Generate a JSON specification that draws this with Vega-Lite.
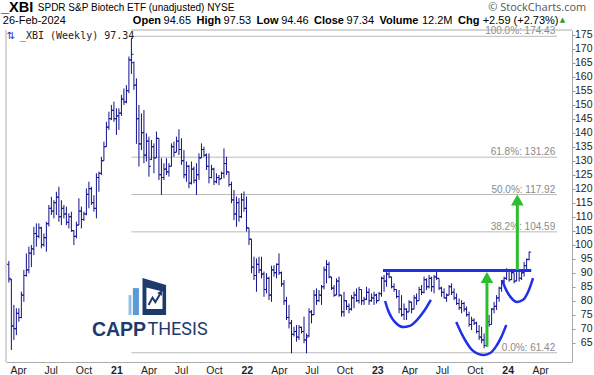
{
"$schema": "https://vega.github.io/schema/vega-lite/v6.json",
"width": 566, "height": 332,
"autosize": {"type": "none"},
"padding": {"left": 6, "top": 30, "right": 22, "bottom": 13},
"background": "#ffffff",
"config": {"view": {"stroke": null}, "font": "Liberation Sans"},
"datasets": {
"ohlc": [
{"d":"2020-03-06","o":93,"h":94.2,"l":86.5,"c":88},
{"d":"2020-03-13","o":87.5,"h":87.8,"l":62.4,"c":71},
{"d":"2020-03-20","o":71,"h":78.5,"l":66,"c":70},
{"d":"2020-03-27","o":70,"h":77.3,"l":67.7,"c":75.5},
{"d":"2020-04-03","o":75.5,"h":77.3,"l":72.5,"c":74},
{"d":"2020-04-10","o":74,"h":83.2,"l":73.7,"c":82},
{"d":"2020-04-17","o":82,"h":91,"l":79.6,"c":89},
{"d":"2020-04-24","o":89,"h":96.9,"l":88.6,"c":91},
{"d":"2020-05-01","o":91,"h":99.3,"l":89.8,"c":97},
{"d":"2020-05-08","o":97,"h":99.9,"l":92,"c":98.5},
{"d":"2020-05-15","o":98.5,"h":106.4,"l":96.3,"c":104},
{"d":"2020-05-22","o":104,"h":107.6,"l":99.3,"c":103},
{"d":"2020-05-29","o":103,"h":107.6,"l":102.3,"c":106},
{"d":"2020-06-05","o":106,"h":106.4,"l":98.7,"c":100},
{"d":"2020-06-12","o":100,"h":104,"l":99.3,"c":102.5},
{"d":"2020-06-19","o":102.5,"h":108.2,"l":97.5,"c":107.5},
{"d":"2020-06-26","o":107.5,"h":114.2,"l":106.5,"c":113},
{"d":"2020-07-03","o":113,"h":117.1,"l":110.6,"c":112},
{"d":"2020-07-10","o":112,"h":115.9,"l":109.4,"c":115},
{"d":"2020-07-17","o":115,"h":118.9,"l":110.6,"c":117},
{"d":"2020-07-24","o":117,"h":120.7,"l":108.2,"c":110},
{"d":"2020-07-31","o":110,"h":115.9,"l":107,"c":113},
{"d":"2020-08-07","o":113,"h":114.2,"l":109.4,"c":111},
{"d":"2020-08-14","o":111,"h":113.6,"l":107,"c":108},
{"d":"2020-08-21","o":108,"h":111.2,"l":105.8,"c":110},
{"d":"2020-08-28","o":110,"h":111.8,"l":104.6,"c":105},
{"d":"2020-09-04","o":105,"h":105.2,"l":99.9,"c":103},
{"d":"2020-09-11","o":103,"h":108.2,"l":102.3,"c":107},
{"d":"2020-09-18","o":107,"h":116.6,"l":107,"c":112},
{"d":"2020-09-25","o":112,"h":113.6,"l":105.8,"c":109},
{"d":"2020-10-02","o":109,"h":111.8,"l":108.5,"c":111},
{"d":"2020-10-09","o":111,"h":120.1,"l":110.5,"c":118},
{"d":"2020-10-16","o":118,"h":122.5,"l":113,"c":120},
{"d":"2020-10-23","o":120,"h":120.7,"l":114.2,"c":115},
{"d":"2020-10-30","o":115,"h":117.7,"l":111.8,"c":113},
{"d":"2020-11-06","o":113,"h":125.5,"l":109.4,"c":124},
{"d":"2020-11-13","o":124,"h":126.1,"l":118.9,"c":125.5},
{"d":"2020-11-20","o":125.5,"h":131.4,"l":124.9,"c":130},
{"d":"2020-11-27","o":130,"h":136.8,"l":130,"c":135},
{"d":"2020-12-04","o":135,"h":143.9,"l":135,"c":142},
{"d":"2020-12-11","o":142,"h":147.5,"l":141,"c":145},
{"d":"2020-12-18","o":145,"h":149.9,"l":144.5,"c":148},
{"d":"2020-12-25","o":148,"h":151.1,"l":143.9,"c":145},
{"d":"2021-01-01","o":145,"h":148.7,"l":139.2,"c":146},
{"d":"2021-01-08","o":146,"h":148.7,"l":141,"c":147},
{"d":"2021-01-15","o":147,"h":153.5,"l":146,"c":152},
{"d":"2021-01-22","o":152,"h":155.8,"l":149.9,"c":151},
{"d":"2021-01-29","o":151,"h":157,"l":150.5,"c":155},
{"d":"2021-02-05","o":155,"h":167.2,"l":154.1,"c":166},
{"d":"2021-02-12","o":166,"h":173.8,"l":161,"c":168},
{"d":"2021-02-19","o":165,"h":165.4,"l":155.3,"c":157},
{"d":"2021-02-26","o":157,"h":159.4,"l":136,"c":145},
{"d":"2021-03-05","o":145,"h":149.9,"l":127.9,"c":136},
{"d":"2021-03-12","o":136,"h":146.9,"l":133.8,"c":140},
{"d":"2021-03-19","o":140,"h":148.1,"l":129.1,"c":132},
{"d":"2021-03-26","o":132,"h":139.8,"l":129.7,"c":137},
{"d":"2021-04-02","o":137,"h":138.6,"l":124.3,"c":128},
{"d":"2021-04-09","o":130.5,"h":137.4,"l":130.2,"c":135},
{"d":"2021-04-16","o":135,"h":136.2,"l":125.5,"c":131},
{"d":"2021-04-23","o":131,"h":140.4,"l":131,"c":138},
{"d":"2021-04-30","o":138,"h":138,"l":123.1,"c":125},
{"d":"2021-05-07","o":125,"h":130.9,"l":117.8,"c":124},
{"d":"2021-05-14","o":124,"h":129.1,"l":123.1,"c":127},
{"d":"2021-05-21","o":127,"h":130.9,"l":124.9,"c":126},
{"d":"2021-05-28","o":126,"h":129.1,"l":124.3,"c":128},
{"d":"2021-06-04","o":128,"h":136.2,"l":128,"c":135},
{"d":"2021-06-11","o":135,"h":136.8,"l":131.4,"c":133},
{"d":"2021-06-18","o":133,"h":138.6,"l":133,"c":137},
{"d":"2021-06-25","o":137,"h":141.2,"l":132,"c":134},
{"d":"2021-07-02","o":134,"h":138,"l":128.5,"c":130},
{"d":"2021-07-09","o":130,"h":133.8,"l":123.7,"c":125},
{"d":"2021-07-16","o":125,"h":129.7,"l":122.5,"c":128},
{"d":"2021-07-23","o":128,"h":128.5,"l":120.2,"c":122},
{"d":"2021-07-30","o":122,"h":129.7,"l":121.5,"c":127},
{"d":"2021-08-06","o":127,"h":127.9,"l":121.9,"c":123},
{"d":"2021-08-13","o":123,"h":129.1,"l":117.8,"c":125},
{"d":"2021-08-20","o":125,"h":132.6,"l":123.1,"c":131},
{"d":"2021-08-27","o":131,"h":136.2,"l":130.9,"c":134},
{"d":"2021-09-03","o":134,"h":135,"l":131.4,"c":132},
{"d":"2021-09-10","o":132,"h":132.6,"l":126.7,"c":128},
{"d":"2021-09-17","o":128,"h":132.6,"l":121.9,"c":124},
{"d":"2021-09-24","o":124,"h":128.5,"l":123.7,"c":127},
{"d":"2021-10-01","o":127,"h":127.5,"l":121.3,"c":122.5},
{"d":"2021-10-08","o":122.5,"h":125.5,"l":121.9,"c":124},
{"d":"2021-10-15","o":124,"h":124.9,"l":121.3,"c":123.5},
{"d":"2021-10-22","o":123.5,"h":126.1,"l":123.5,"c":125.5},
{"d":"2021-10-29","o":125.5,"h":134.4,"l":123.7,"c":129},
{"d":"2021-11-05","o":129,"h":131.4,"l":124.9,"c":126},
{"d":"2021-11-12","o":126,"h":126.1,"l":120.7,"c":121.5},
{"d":"2021-11-19","o":121.5,"h":122.5,"l":114.8,"c":116},
{"d":"2021-11-26","o":116,"h":119.5,"l":108.8,"c":111},
{"d":"2021-12-03","o":111,"h":117.2,"l":106.4,"c":115},
{"d":"2021-12-10","o":115,"h":116.6,"l":108.2,"c":110},
{"d":"2021-12-17","o":110,"h":118.4,"l":109.5,"c":116},
{"d":"2021-12-24","o":116,"h":119,"l":111.8,"c":113},
{"d":"2021-12-31","o":113,"h":117.2,"l":104.7,"c":106},
{"d":"2022-01-07","o":106,"h":106,"l":99.9,"c":102},
{"d":"2022-01-14","o":102,"h":102,"l":89.8,"c":92},
{"d":"2022-01-21","o":92,"h":95.7,"l":87.4,"c":89},
{"d":"2022-01-28","o":89,"h":95.1,"l":83.2,"c":93},
{"d":"2022-02-04","o":93,"h":95.7,"l":89.8,"c":91},
{"d":"2022-02-11","o":91,"h":95.7,"l":88,"c":89.5},
{"d":"2022-02-18","o":89.5,"h":90.4,"l":81.4,"c":84},
{"d":"2022-02-25","o":84,"h":89.8,"l":82.6,"c":88},
{"d":"2022-03-04","o":88,"h":88.6,"l":80.2,"c":82},
{"d":"2022-03-11","o":82,"h":92.5,"l":79.6,"c":91},
{"d":"2022-03-18","o":91,"h":92.7,"l":88.6,"c":90},
{"d":"2022-03-25","o":90,"h":93.3,"l":88,"c":93},
{"d":"2022-04-01","o":93,"h":96.9,"l":89.2,"c":90},
{"d":"2022-04-08","o":90,"h":90.4,"l":85,"c":86},
{"d":"2022-04-15","o":86,"h":87.4,"l":78.5,"c":80},
{"d":"2022-04-22","o":80,"h":81.4,"l":73.1,"c":74},
{"d":"2022-04-29","o":74,"h":78.5,"l":70.1,"c":72},
{"d":"2022-05-06","o":72,"h":73.1,"l":61.2,"c":68},
{"d":"2022-05-13","o":68,"h":70.7,"l":67.2,"c":69},
{"d":"2022-05-20","o":69,"h":71.3,"l":65.4,"c":67},
{"d":"2022-05-27","o":67,"h":71.3,"l":66,"c":70.5},
{"d":"2022-06-03","o":70.5,"h":70.7,"l":68.3,"c":69},
{"d":"2022-06-10","o":69,"h":74.3,"l":64.8,"c":66},
{"d":"2022-06-17","o":66,"h":68.3,"l":61.2,"c":67},
{"d":"2022-06-24","o":67.5,"h":77.3,"l":67,"c":76},
{"d":"2022-07-01","o":76,"h":76.7,"l":71.9,"c":75},
{"d":"2022-07-08","o":75,"h":83.8,"l":74.9,"c":82},
{"d":"2022-07-15","o":82,"h":84.4,"l":78.5,"c":80},
{"d":"2022-07-22","o":80,"h":83.8,"l":79.6,"c":82},
{"d":"2022-07-29","o":82,"h":85.6,"l":78.5,"c":85},
{"d":"2022-08-05","o":85,"h":92.2,"l":84,"c":91},
{"d":"2022-08-12","o":91,"h":94.5,"l":86.2,"c":93},
{"d":"2022-08-19","o":93,"h":93.9,"l":88,"c":88.5},
{"d":"2022-08-26","o":88.5,"h":88.5,"l":83.8,"c":84.5},
{"d":"2022-09-02","o":84.5,"h":85.6,"l":81.4,"c":82},
{"d":"2022-09-09","o":82,"h":88,"l":82,"c":87},
{"d":"2022-09-16","o":87,"h":88.6,"l":81.4,"c":82},
{"d":"2022-09-23","o":82,"h":82,"l":74.3,"c":76},
{"d":"2022-09-30","o":76,"h":83.2,"l":74.3,"c":80},
{"d":"2022-10-07","o":80,"h":80.2,"l":76.7,"c":78},
{"d":"2022-10-14","o":78,"h":79,"l":75.5,"c":77},
{"d":"2022-10-21","o":77,"h":82,"l":76.5,"c":81},
{"d":"2022-10-28","o":81,"h":83.2,"l":77.3,"c":82},
{"d":"2022-11-04","o":82,"h":84.4,"l":79.6,"c":80},
{"d":"2022-11-11","o":80,"h":85,"l":79,"c":84},
{"d":"2022-11-18","o":84,"h":84,"l":78.5,"c":80},
{"d":"2022-11-25","o":80,"h":81.4,"l":78.5,"c":80.5},
{"d":"2022-12-02","o":80.5,"h":85,"l":80.2,"c":83},
{"d":"2022-12-09","o":83,"h":84.4,"l":78.5,"c":80},
{"d":"2022-12-16","o":80,"h":82.6,"l":79.6,"c":81},
{"d":"2022-12-23","o":81,"h":83.2,"l":78.5,"c":82},
{"d":"2022-12-30","o":82,"h":82.5,"l":79,"c":80},
{"d":"2023-01-06","o":80,"h":83.2,"l":80,"c":82.5},
{"d":"2023-01-13","o":82.5,"h":88.6,"l":81.4,"c":88},
{"d":"2023-01-20","o":88,"h":89.2,"l":83.2,"c":87},
{"d":"2023-01-27","o":87,"h":90.9,"l":85,"c":89.5},
{"d":"2023-02-03","o":89.5,"h":90.4,"l":88,"c":88.5},
{"d":"2023-02-10","o":88.5,"h":88.5,"l":84.4,"c":85},
{"d":"2023-02-17","o":85,"h":86.2,"l":83.2,"c":84},
{"d":"2023-02-24","o":84,"h":84,"l":80.8,"c":81.5},
{"d":"2023-03-03","o":81.5,"h":83.8,"l":75.5,"c":77},
{"d":"2023-03-10","o":77,"h":82,"l":74.3,"c":75},
{"d":"2023-03-17","o":75,"h":79,"l":73.1,"c":77},
{"d":"2023-03-24","o":77,"h":77.3,"l":73.1,"c":76},
{"d":"2023-03-31","o":76,"h":80.2,"l":76,"c":79.5},
{"d":"2023-04-07","o":79.5,"h":79.6,"l":75.5,"c":77},
{"d":"2023-04-14","o":77,"h":82,"l":77,"c":81},
{"d":"2023-04-21","o":81,"h":82.6,"l":78.5,"c":80},
{"d":"2023-04-28","o":80,"h":85,"l":80,"c":84},
{"d":"2023-05-05","o":84,"h":85.6,"l":82,"c":83},
{"d":"2023-05-12","o":83,"h":88.6,"l":82.6,"c":87.5},
{"d":"2023-05-19","o":87.5,"h":88,"l":83.8,"c":85},
{"d":"2023-05-26","o":85,"h":89.2,"l":84.4,"c":88},
{"d":"2023-06-02","o":88,"h":88.6,"l":83.2,"c":85},
{"d":"2023-06-09","o":85,"h":89.2,"l":82.6,"c":88.5},
{"d":"2023-06-16","o":88.5,"h":91,"l":87.4,"c":88},
{"d":"2023-06-23","o":88,"h":88,"l":83.8,"c":84.5},
{"d":"2023-06-30","o":84.5,"h":85,"l":81.4,"c":83},
{"d":"2023-07-07","o":83,"h":84.4,"l":80.8,"c":81},
{"d":"2023-07-14","o":81,"h":82.6,"l":79.6,"c":82},
{"d":"2023-07-21","o":82,"h":85.6,"l":82,"c":85},
{"d":"2023-07-28","o":85,"h":86.2,"l":82,"c":83},
{"d":"2023-08-04","o":83,"h":84.4,"l":80.2,"c":81},
{"d":"2023-08-11","o":81,"h":82.6,"l":78.5,"c":79},
{"d":"2023-08-18","o":79,"h":80.8,"l":76.7,"c":77.5},
{"d":"2023-08-25","o":77.5,"h":80.2,"l":75.5,"c":79},
{"d":"2023-09-01","o":79,"h":79.6,"l":76.1,"c":77},
{"d":"2023-09-08","o":77,"h":77.9,"l":74.3,"c":75},
{"d":"2023-09-15","o":75,"h":76.1,"l":70.7,"c":71.5},
{"d":"2023-09-22","o":71.5,"h":74.3,"l":69.5,"c":73},
{"d":"2023-09-29","o":73,"h":73.7,"l":71.3,"c":72},
{"d":"2023-10-06","o":72,"h":72.5,"l":68.3,"c":69},
{"d":"2023-10-13","o":69,"h":71.3,"l":66,"c":67},
{"d":"2023-10-20","o":67,"h":70.7,"l":64.8,"c":66},
{"d":"2023-10-27","o":66,"h":68.3,"l":63,"c":64},
{"d":"2023-11-03","o":64,"h":73.1,"l":63.5,"c":72.5},
{"d":"2023-11-10","o":72.5,"h":74.9,"l":70.7,"c":71.5},
{"d":"2023-11-17","o":71.5,"h":77.3,"l":71.5,"c":77},
{"d":"2023-11-24","o":77,"h":79.6,"l":75.5,"c":78},
{"d":"2023-12-01","o":78,"h":82,"l":76.7,"c":81},
{"d":"2023-12-08","o":81,"h":85,"l":79.6,"c":84.5},
{"d":"2023-12-15","o":84.5,"h":87.4,"l":83.2,"c":87},
{"d":"2023-12-22","o":87,"h":88.6,"l":86.2,"c":88},
{"d":"2023-12-29","o":88,"h":91.6,"l":87.4,"c":90.5},
{"d":"2024-01-05","o":90.5,"h":91,"l":86.8,"c":87.5},
{"d":"2024-01-12","o":87.5,"h":91,"l":87.4,"c":90},
{"d":"2024-01-19","o":90,"h":90,"l":86.2,"c":87},
{"d":"2024-01-26","o":87,"h":91.6,"l":87,"c":90.5},
{"d":"2024-02-02","o":90.5,"h":91,"l":86.8,"c":88},
{"d":"2024-02-09","o":88,"h":90.4,"l":87.4,"c":90},
{"d":"2024-02-16","o":90,"h":93.9,"l":88.6,"c":92.5},
{"d":"2024-02-23","o":92.5,"h":95.1,"l":91,"c":94.75},
{"d":"2024-03-01","o":94.65,"h":97.53,"l":94.46,"c":97.34}
],
"fib": [
{"d":"2021-02-12","d2":"2024-05-18","v":174.43},
{"d":"2021-02-12","d2":"2024-05-18","v":131.26},
{"d":"2021-02-12","d2":"2024-05-18","v":117.92},
{"d":"2021-02-12","d2":"2024-05-18","v":104.59},
{"d":"2021-02-12","d2":"2024-05-18","v":61.42}
],
"fiblab": [
{"d":"2024-05-13","v":174.43,"t":"100.0%: 174.43"},
{"d":"2024-05-13","v":131.26,"t":"61.8%: 131.26"},
{"d":"2024-05-13","v":117.92,"t":"50.0%: 117.92"},
{"d":"2024-05-13","v":104.59,"t":"38.2%: 104.59"},
{"d":"2024-05-13","v":61.42,"t":"0.0%: 61.42"}
],
"frame_left": [{"d":"2020-02-27","v":58.11,"v2":176.68}],
"frame_top": [{"d":"2021-02-12","d2":"2024-06-29","v":176.68}],
"neck": [{"d":"2023-01-17","d2":"2024-03-07","v":90.8}],
"cups": [
{"g":1,"d":"2023-01-23","v":79.9},
{"g":1,"d":"2023-01-31","v":76.7},
{"g":1,"d":"2023-02-11","v":73.8},
{"g":1,"d":"2023-02-25","v":71.7},
{"g":1,"d":"2023-03-14","v":70.6},
{"g":1,"d":"2023-04-02","v":71.0},
{"g":1,"d":"2023-04-22","v":73.1},
{"g":1,"d":"2023-05-12","v":76.3},
{"g":1,"d":"2023-05-31","v":80.3},
{"g":2,"d":"2023-08-10","v":72.4},
{"g":2,"d":"2023-08-24","v":68.5},
{"g":2,"d":"2023-09-07","v":65.25},
{"g":2,"d":"2023-09-23","v":62.4},
{"g":2,"d":"2023-10-10","v":61.0},
{"g":2,"d":"2023-10-27","v":60.6},
{"g":2,"d":"2023-11-13","v":61.3},
{"g":2,"d":"2023-11-30","v":63.8},
{"g":2,"d":"2023-12-14","v":67.0},
{"g":2,"d":"2023-12-28","v":71.3},
{"g":3,"d":"2023-12-16","v":87.4},
{"g":3,"d":"2023-12-28","v":83.8},
{"g":3,"d":"2024-01-11","v":81.0},
{"g":3,"d":"2024-01-27","v":79.5},
{"g":3,"d":"2024-02-13","v":80.3},
{"g":3,"d":"2024-02-27","v":83.1},
{"g":3,"d":"2024-03-12","v":88.1}
],
"shafts": [
{"d":"2023-11-04","v":63.6,"v2":86.5},
{"d":"2024-01-28","v":91.0,"v2":114.5}
],
"heads": [
{"d":"2023-11-04","v":88.3},
{"d":"2024-01-28","v":116.0}
],
"logobox": [
{"d":"2021-03-15","v":88.1,"v2":74.9},
{"d":"2021-05-20","v":85.6,"v2":74.9}
],
"logoinner": [
{"d":"2021-03-26","v":84.7,"v2":77.0},
{"d":"2021-05-10","v":83.3,"v2":77.0}
],
"logobars": [
{"d":"2021-02-04","d2":"2021-02-12","v":82.0,"v2":74.9,"k":"a"},
{"d":"2021-02-16","d2":"2021-03-05","v":84.5,"v2":74.9,"k":"b"}
],
"logozig": [
{"d":"2021-04-01","v":78.5},
{"d":"2021-04-12","v":81.1},
{"d":"2021-04-20","v":79.5},
{"d":"2021-05-04","v":82.6}
],
"logohead": [{"d":"2021-05-05","v":83.0}],
"logotxt": [
{"d":"2021-03-25","v":69.5,"t":"CAPP","s":"b"},
{"d":"2021-03-29","v":69.5,"t":"THESIS","s":"n"}
],
"hdr": [
{"s":"big","d":"2020-02-13","v":184.5,"t":"_XBI"},
{"s":"t","d":"2020-05-26","v":184.5,"t":"SPDR S&P Biotech ETF (unadjusted) NYSE"},
{"s":"n","d":"2020-02-18","v":180.0,"t":"26-Feb-2024"},
{"s":"b","d":"2021-02-16","v":180.0,"t":"Open"},
{"s":"n","d":"2021-05-13","v":180.0,"t":"94.65"},
{"s":"b","d":"2021-08-13","v":180.0,"t":"High"},
{"s":"n","d":"2021-10-28","v":180.0,"t":"97.53"},
{"s":"b","d":"2022-01-28","v":180.0,"t":"Low"},
{"s":"n","d":"2022-04-07","v":180.0,"t":"94.46"},
{"s":"b","d":"2022-07-08","v":180.0,"t":"Close"},
{"s":"n","d":"2022-10-07","v":180.0,"t":"97.34"},
{"s":"b","d":"2023-01-07","v":180.0,"t":"Volume"},
{"s":"n","d":"2023-05-06","v":180.0,"t":"12.2M"},
{"s":"b","d":"2023-08-15","v":180.0,"t":"Chg"},
{"s":"n","d":"2023-10-23","v":180.0,"t":"+2.59 (+2.73%)"},
{"s":"g","d":"2024-06-02","v":180.3,"t":"▲"},
{"s":"c","d":"2024-08-08","v":184.4,"t":"© StockCharts.com"},
{"s":"m","d":"2020-04-06","v":174.5,"t":"_XBI (Weekly) 97.34"},
{"s":"i","d":"2020-03-12","v":174.5,"t":"⇅"}
]
},
"encoding": {
"x": {"field": "d", "type": "temporal", "title": null,
 "scale": {"type": "utc", "domain": [{"year":2020,"month":2,"date":27,"utc":true},{"year":2024,"month":6,"date":29,"utc":true}], "nice": false},
 "axis": {"values": [{"year":2020,"month":4,"date":1,"utc":true},{"year":2020,"month":7,"date":1,"utc":true},{"year":2020,"month":10,"date":1,"utc":true},{"year":2021,"month":1,"date":1,"utc":true},{"year":2021,"month":4,"date":1,"utc":true},{"year":2021,"month":7,"date":1,"utc":true},{"year":2021,"month":10,"date":1,"utc":true},{"year":2022,"month":1,"date":1,"utc":true},{"year":2022,"month":4,"date":1,"utc":true},{"year":2022,"month":7,"date":1,"utc":true},{"year":2022,"month":10,"date":1,"utc":true},{"year":2023,"month":1,"date":1,"utc":true},{"year":2023,"month":4,"date":1,"utc":true},{"year":2023,"month":7,"date":1,"utc":true},{"year":2023,"month":10,"date":1,"utc":true},{"year":2024,"month":1,"date":1,"utc":true},{"year":2024,"month":4,"date":1,"utc":true}],
  "labelExpr": "utcmonth(datum.value) == 0 ? utcFormat(datum.value, '%y') : utcFormat(datum.value, '%b')",
  "labelFontWeight": {"condition": {"test": "utcmonth(datum.value) == 0", "value": "bold"}, "value": "normal"},
  "grid": false, "ticks": false, "domainColor": "#aaaaaa", "labelFont": "Liberation Sans", "labelFontSize": 10.5, "labelColor": "#222222", "labelPadding": 3, "labelOverlap": false, "labelFlush": false, "title": null}},
"y": {"field": "v", "type": "quantitative", "title": null,
 "scale": {"domain": [58.11, 176.68], "nice": false, "zero": false},
 "axis": {"orient": "right", "values": [65,70,75,80,85,90,95,100,105,110,115,120,125,130,135,140,145,150,155,160,165,170,175], "grid": false, "domainColor": "#aaaaaa", "tickColor": "#999999", "tickSize": 3, "labelAlign": "right", "labelPadding": 17, "labelFont": "Liberation Sans", "labelFontSize": 10.5, "labelColor": "#222222", "labelOverlap": false, "labelFlush": false, "title": null}}
},
"layer": [
{"data": {"name": "fib"}, "mark": {"type": "rule", "color": "#bbbbbb", "strokeWidth": 1}, "encoding": {"x2": {"field": "d2"}}},
{"data": {"name": "fiblab"}, "mark": {"type": "text", "align": "right", "baseline": "bottom", "fontSize": 10, "color": "#8a8a8a", "font": "Liberation Sans"}, "encoding": {"text": {"field": "t"}}},
{"data": {"name": "frame_left"}, "mark": {"type": "rule", "color": "#aaaaaa", "strokeWidth": 1}, "encoding": {"y2": {"field": "v2"}}},
{"data": {"name": "frame_top"}, "mark": {"type": "rule", "color": "#aaaaaa", "strokeWidth": 1}, "encoding": {"x2": {"field": "d2"}}},
{"data": {"name": "ohlc"}, "mark": {"type": "rule", "color": "#12128c", "strokeWidth": 1},
 "encoding": {"y": {"field": "l", "type": "quantitative", "title": null, "scale": {"domain": [58.11, 176.68], "nice": false, "zero": false}, "axis": {"orient": "right", "values": [65,70,75,80,85,90,95,100,105,110,115,120,125,130,135,140,145,150,155,160,165,170,175], "grid": false, "domainColor": "#aaaaaa", "tickColor": "#999999", "tickSize": 3, "labelAlign": "right", "labelPadding": 17, "labelFont": "Liberation Sans", "labelFontSize": 10.5, "labelColor": "#222222", "labelOverlap": false, "labelFlush": false, "title": null}}, "y2": {"field": "h"}}},
{"data": {"name": "ohlc"}, "mark": {"type": "tick", "orient": "horizontal", "size": 2, "thickness": 1, "xOffset": -1, "color": "#12128c", "opacity": 1},
 "encoding": {"y": {"field": "o", "type": "quantitative", "title": null, "scale": {"domain": [58.11, 176.68], "nice": false, "zero": false}, "axis": {"orient": "right", "values": [65,70,75,80,85,90,95,100,105,110,115,120,125,130,135,140,145,150,155,160,165,170,175], "grid": false, "domainColor": "#aaaaaa", "tickColor": "#999999", "tickSize": 3, "labelAlign": "right", "labelPadding": 17, "labelFont": "Liberation Sans", "labelFontSize": 10.5, "labelColor": "#222222", "labelOverlap": false, "labelFlush": false, "title": null}}}},
{"data": {"name": "ohlc"}, "mark": {"type": "tick", "orient": "horizontal", "size": 2, "thickness": 1, "xOffset": 1, "color": "#12128c", "opacity": 1},
 "encoding": {"y": {"field": "c", "type": "quantitative", "title": null, "scale": {"domain": [58.11, 176.68], "nice": false, "zero": false}, "axis": {"orient": "right", "values": [65,70,75,80,85,90,95,100,105,110,115,120,125,130,135,140,145,150,155,160,165,170,175], "grid": false, "domainColor": "#aaaaaa", "tickColor": "#999999", "tickSize": 3, "labelAlign": "right", "labelPadding": 17, "labelFont": "Liberation Sans", "labelFontSize": 10.5, "labelColor": "#222222", "labelOverlap": false, "labelFlush": false, "title": null}}}},
{"data": {"name": "neck"}, "mark": {"type": "rule", "color": "#1f30e8", "strokeWidth": 3}, "encoding": {"x2": {"field": "d2"}}},
{"data": {"name": "cups"}, "mark": {"type": "line", "interpolate": "monotone", "color": "#1f30e8", "strokeWidth": 2.5}, "encoding": {"detail": {"field": "g", "type": "nominal"}}},
{"data": {"name": "shafts"}, "mark": {"type": "rule", "color": "#2ebd2e", "strokeWidth": 3}, "encoding": {"y2": {"field": "v2"}}},
{"data": {"name": "heads"}, "mark": {"type": "point", "shape": "triangle-up", "filled": true, "size": 160, "color": "#2ebd2e", "opacity": 1, "strokeWidth": 0}, "encoding": {}},
{"data": {"name": "logobox"}, "mark": {"type": "area", "color": "#1d3a6d", "opacity": 1}, "encoding": {"y2": {"field": "v2"}}},
{"data": {"name": "logoinner"}, "mark": {"type": "area", "color": "#ffffff", "opacity": 1}, "encoding": {"y2": {"field": "v2"}}},
{"data": {"name": "logobars"}, "mark": {"type": "rect", "opacity": 1}, "encoding": {"x2": {"field": "d2"}, "y2": {"field": "v2"}, "color": {"field": "k", "type": "nominal", "scale": {"domain": ["a","b"], "range": ["#8fbfe6","#5a9bd6"]}, "legend": null}}},
{"data": {"name": "logozig"}, "mark": {"type": "line", "color": "#1d3a6d", "strokeWidth": 2}, "encoding": {}},
{"data": {"name": "logohead"}, "mark": {"type": "point", "shape": "triangle-up", "filled": true, "size": 30, "angle": 30, "color": "#1d3a6d", "opacity": 1, "strokeWidth": 0}, "encoding": {}},
{"data": {"name": "logotxt"}, "transform": [{"filter": "datum.s == 'b'"}], "mark": {"type": "text", "align": "right", "baseline": "middle", "font": "Liberation Sans", "fontWeight": "bold", "fontSize": 19.5, "color": "#1d3a6d"}, "encoding": {"text": {"field": "t"}}},
{"data": {"name": "logotxt"}, "transform": [{"filter": "datum.s == 'n'"}], "mark": {"type": "text", "align": "left", "baseline": "middle", "font": "Roboto", "fontSize": 18, "color": "#1d3a6d"}, "encoding": {"text": {"field": "t"}}},
{"data": {"name": "hdr"}, "transform": [{"filter": "datum.s == 'big'"}], "mark": {"type": "text", "align": "left", "baseline": "middle", "font": "Liberation Sans", "fontWeight": "bold", "fontSize": 14.5, "color": "#000000"}, "encoding": {"text": {"field": "t"}}},
{"data": {"name": "hdr"}, "transform": [{"filter": "datum.s == 't'"}], "mark": {"type": "text", "align": "left", "baseline": "middle", "font": "Liberation Sans", "fontSize": 10, "color": "#000000"}, "encoding": {"text": {"field": "t"}}},
{"data": {"name": "hdr"}, "transform": [{"filter": "datum.s == 'n'"}], "mark": {"type": "text", "align": "left", "baseline": "middle", "font": "Liberation Sans", "fontSize": 11, "color": "#000000"}, "encoding": {"text": {"field": "t"}}},
{"data": {"name": "hdr"}, "transform": [{"filter": "datum.s == 'b'"}], "mark": {"type": "text", "align": "left", "baseline": "middle", "font": "Liberation Sans", "fontWeight": "bold", "fontSize": 11, "color": "#000000"}, "encoding": {"text": {"field": "t"}}},
{"data": {"name": "hdr"}, "transform": [{"filter": "datum.s == 'g'"}], "mark": {"type": "text", "align": "center", "baseline": "middle", "font": "DejaVu Sans", "fontSize": 7, "color": "#2e9e2e"}, "encoding": {"text": {"field": "t"}}},
{"data": {"name": "hdr"}, "transform": [{"filter": "datum.s == 'c'"}], "mark": {"type": "text", "align": "right", "baseline": "middle", "font": "Open Sans", "fontSize": 11, "color": "#555555"}, "encoding": {"text": {"field": "t"}}},
{"data": {"name": "hdr"}, "transform": [{"filter": "datum.s == 'm'"}], "mark": {"type": "text", "align": "left", "baseline": "middle", "font": "DejaVu Sans Mono", "fontSize": 10, "color": "#222222"}, "encoding": {"text": {"field": "t"}}},
{"data": {"name": "hdr"}, "transform": [{"filter": "datum.s == 'i'"}], "mark": {"type": "text", "align": "center", "baseline": "middle", "font": "DejaVu Sans", "fontSize": 10, "color": "#2233bb"}, "encoding": {"text": {"field": "t"}}}
]
}
